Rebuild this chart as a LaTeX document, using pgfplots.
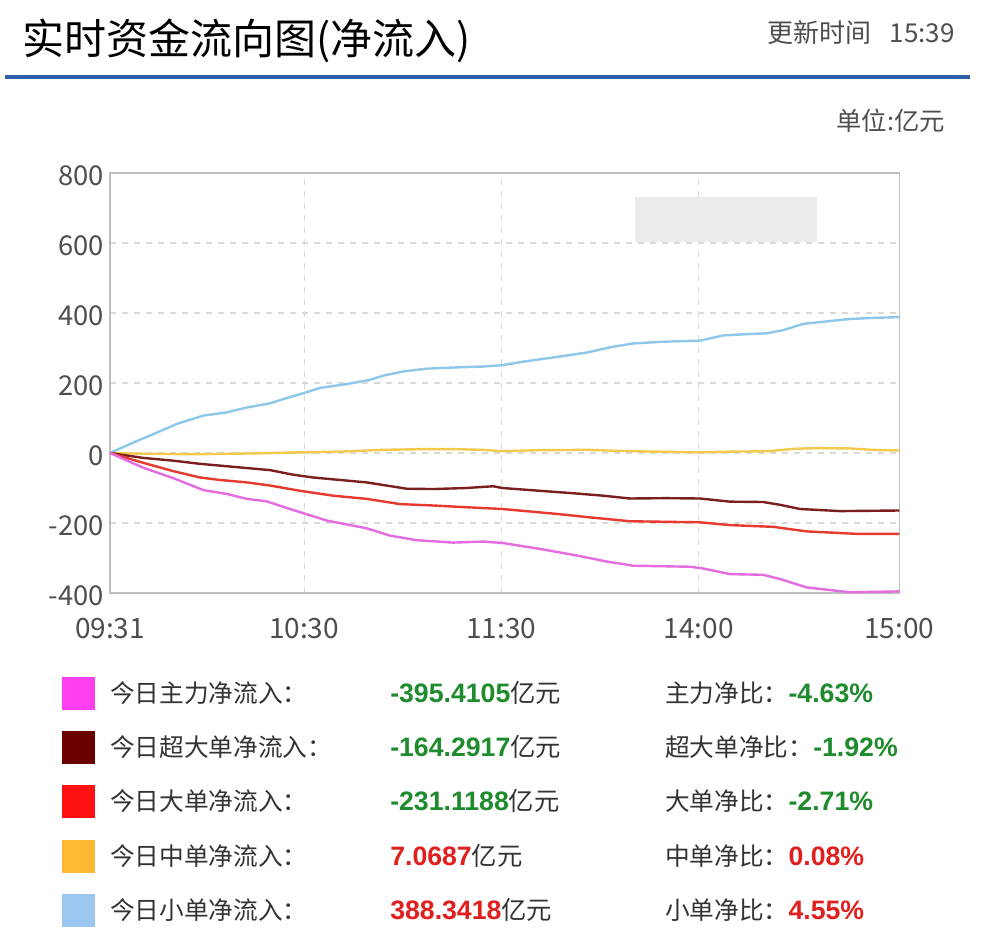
\documentclass[border=0pt]{standalone}
\usepackage{pgfplots}
\pgfplotsset{compat=1.18}
\usepackage{fontspec}
\setmainfont{Noto Sans CJK SC}
\newfontfamily\numfont{Liberation Sans}
\definecolor{cBlue}{HTML}{8DC8EA}
\definecolor{cYellow}{HTML}{F2C94C}
\definecolor{cDark}{HTML}{7B1E1E}
\definecolor{cRed}{HTML}{E8392E}
\definecolor{cMag}{HTML}{E46BE0}
\definecolor{sqMag}{HTML}{FF3FEF}
\definecolor{sqDark}{HTML}{6B0000}
\definecolor{sqRed}{HTML}{FF1111}
\definecolor{sqOrange}{HTML}{FFB833}
\definecolor{sqBlue}{HTML}{9AC6F0}
\definecolor{txtGreen}{HTML}{1E8B2D}
\definecolor{txtRed}{HTML}{E0201F}
\definecolor{txtGray}{HTML}{333333}
\definecolor{tickGray}{HTML}{4E4E4E}
\definecolor{ruleBlue}{HTML}{2C5FA8}

\pgfplotstableread{
x y
0 0
7.1 30
13.2 54
20.3 83
28.4 107
35.5 116
41.6 130
48.7 142
53.7 157
58.5 170
63.9 186
72 197
79 209
83.1 221
89.2 233
96.3 241
106.4 245
113.5 247
119.3 251
125.7 261
134.8 273
145 287
152 302
159.1 313
168.2 318
179.4 321
186.5 336
194.6 340
199.7 342
204.7 351
210.8 369
216.9 375
225 383
232.1 386
240 388.34
}\smallT

\pgfplotstableread{
x y
0 0
10 -2
20 -3
30 -3
45 -1
58.5 2
70 4
83 9
95 11
105 11
113.5 9
119.3 5
130 8
145 9
155 6
165 4
179 2
190 4
200 5
208 12
215 14
225 13
232 9
240 7.07
}\midT

\pgfplotstableread{
x y
0 0
10.1 -14
19.3 -22
27.4 -31
33.4 -36
41.6 -43
48.7 -49
55.7 -62
61.8 -70
69.9 -77
78 -84
84.1 -93
90.2 -102
98.3 -103
108.4 -100
116.5 -95
119.3 -100
130.7 -108
140.9 -115
150 -122
158.1 -130
169.2 -129
179.4 -130
188.5 -139
198.6 -140
203.7 -148
209.8 -160
222 -166
240 -164.29
}\superT

\pgfplotstableread{
x y
0 0
10.1 -28
19.3 -52
27.4 -70
33.4 -77
41.6 -84
48.7 -93
57.8 -108
67.9 -122
78 -131
88.2 -146
98.3 -150
108.4 -155
119.3 -160
135.8 -174
146 -184
158.1 -195
179.4 -198
188.5 -206
201.7 -211
211.8 -224
227 -231
240 -231.12
}\largeT

\pgfplotstableread{
x y
0 0
10.1 -42
19.3 -72
28.4 -106
35.5 -117
41.6 -131
47.6 -138
53.7 -157
58.8 -172
65.9 -193
78 -215
85.1 -236
93.2 -249
104.3 -256
113.5 -253
119.3 -257
130.7 -274
140.9 -291
151 -310
159.1 -322
176.4 -325
180.4 -330
188.5 -346
198.6 -348
203.7 -360
211.8 -384
225 -398
240 -395.41
}\mainT

\begin{document}
\begin{tikzpicture}
\begin{scope}[x=0.75pt,y=-0.75pt]
\path[use as bounding box, fill=white] (0,0) rectangle (1000,952);
\node[anchor=west, inner sep=0, text=black] at (22,41) {\fontsize{31.5}{38}\selectfont 实时资金流向图(净流入)};
\node[anchor=east, inner sep=0, text=tickGray] at (955,33) {\fontsize{19.5}{24}\selectfont 更新时间\hspace{14pt}15:39};
\draw[ruleBlue, line width=3pt] (5,77) -- (970,77);
\node[anchor=east, inner sep=0, text=tickGray] at (945,121) {\fontsize{19}{23}\selectfont 单位:亿元};
\end{scope}

\begin{axis}[
  at={(82.5pt,-444.75pt)}, anchor=south west,
  scale only axis, width=592pt, height=315pt,
  xmin=0, xmax=240, ymin=-400, ymax=800,
  xtick={0,59,119,179,240},
  xticklabels={09:31,10:30,11:30,14:00,15:00},
  ytick={-400,-200,0,200,400,600,800},
  /pgf/number format/assume math mode=true,
  yticklabel style={font=\fontsize{20.5}{24}\selectfont, text=tickGray, xshift=-1pt, yshift=-2pt},
  xticklabel style={font=\fontsize{21}{25}\selectfont, text=tickGray, yshift=-15pt},
  tick style={draw=none},
  grid=major,
  major grid style={dashed, dash pattern=on 4.5pt off 4.5pt, draw=gray!30, line width=0.8pt},
  axis line style={draw=gray!50, line width=1.1pt},
  clip=true,
]
\addplot[cYellow, line width=1.8pt] table[x=x,y=y] {\midT};
\addplot[cBlue, line width=1.8pt] table[x=x,y=y] {\smallT};
\addplot[cDark, line width=1.8pt] table[x=x,y=y] {\superT};
\addplot[cRed, line width=1.8pt] table[x=x,y=y] {\largeT};
\addplot[cMag, line width=1.8pt] table[x=x,y=y] {\mainT};
\end{axis}

\begin{scope}[x=0.75pt,y=-0.75pt]
\fill[black!8] (635,197) rectangle (817,242);
% legend rows
\foreach \yy/\sq/\lab/\val/\vc/\rlab/\rval in {
  693/sqMag/今日主力净流入：/-395.4105/txtGreen/主力净比：/-4.63\%,
  747/sqDark/今日超大单净流入：/-164.2917/txtGreen/超大单净比：/-1.92\%,
  801/sqRed/今日大单净流入：/-231.1188/txtGreen/大单净比：/-2.71\%,
  856/sqOrange/今日中单净流入：/7.0687/txtRed/中单净比：/0.08\%,
  910/sqBlue/今日小单净流入：/388.3418/txtRed/小单净比：/4.55\%}{
  \fill[\sq] (62,\yy-16.5) rectangle (95,\yy+16.5);
  \node[anchor=west, inner sep=0, text=txtGray] at (110,\yy) {\fontsize{18.5}{22}\selectfont \lab};
  \node[anchor=west, inner sep=0] at (390,\yy) {\fontsize{20}{24}\selectfont\numfont\bfseries\color{\vc}\val\normalfont\fontsize{19}{22}\selectfont\color{txtGray}亿元};
  \node[anchor=west, inner sep=0] at (665,\yy) {\fontsize{18.5}{22}\selectfont\color{txtGray}\rlab\numfont\bfseries\fontsize{20}{24}\selectfont\color{\vc}\rval};
}
\end{scope}
\end{tikzpicture}
\end{document}
